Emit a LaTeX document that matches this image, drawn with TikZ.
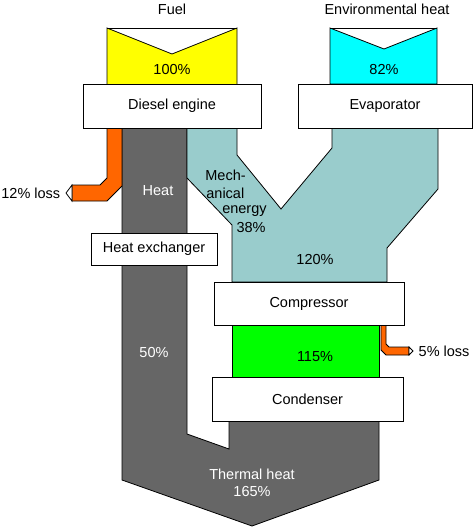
\documentclass[tikz,border=0pt]{standalone}
\usepackage{fontspec}
\setmainfont{Liberation Sans}
\definecolor{fuelyellow}{RGB}{255,255,0}
\definecolor{envcyan}{RGB}{0,255,255}
\definecolor{mechteal}{RGB}{153,204,204}
\definecolor{condgreen}{RGB}{0,255,0}
\definecolor{heatgray}{RGB}{102,102,102}
\definecolor{lossorange}{RGB}{255,102,0}
\begin{document}
\begin{tikzpicture}[x=1pt,y=-1pt,line width=0.8pt,font=\fontsize{14.5}{17}\selectfont,
  box/.style={draw,fill=white,inner sep=0pt,minimum width=#1},
  wtext/.style={text=white}]
\useasboundingbox[fill=white] (0,0) rectangle (474,527);
\filldraw [fill=heatgray] (122,128)--(122,480)--(252,526)--(379,480)--(379,421)--(229,421)--(229,449)--(187,434)--(187,128)--cycle;
\filldraw [fill=mechteal] (187,128)--(187,178)--(232,225)--(232,282)--(387,282)--(387,248)--(438,189)--(438,128)--(332,128)--(332,148)--(281,209)--(237,155)--(237,128)--cycle;
\filldraw [fill=condgreen] (232,325) rectangle (379,377);
\filldraw [fill=lossorange] (122,128)--(122,186)--(107,201)--(72,201)--(72,185)--(100,185)--(107,178)--(107,128)--cycle;
\filldraw [fill=white] (72,185)--(66,193)--(72,201)--cycle;
\filldraw [fill=lossorange] (381,325)--(381,350)--(386,355)--(409,355)--(409,347)--(389,347)--(386,344)--(386,325)--cycle;
\filldraw [fill=white] (409,347)--(413,351)--(409,355)--cycle;
\filldraw [fill=fuelyellow] (107,28)--(172,54)--(237,28)--(237,85)--(107,85)--cycle;
\draw (107,28)--(237,28);
\filldraw [fill=envcyan] (330,28)--(384,49)--(437,28)--(437,84)--(330,84)--cycle;
\draw (330,28)--(437,28);
\node (fuel) at (172,9) {Fuel};
\node (envheat) at (387,9) {Environmental heat};
\node (fuelpct) at (172,70) {100\%};
\node (envpct) at (384,70) {82\%};
\node [box=178pt,minimum height=44pt] (diesel) at (172,106) {Diesel engine};
\node [box=174pt,minimum height=44pt] (evap) at (385,106) {Evaporator};
\node [box=126pt,minimum height=32pt] (hex) at (154,249) {Heat exchanger};
\node [box=190pt,minimum height=43pt] (comp) at (309,303.5) {Compressor};
\node [box=191pt,minimum height=44pt] (cond) at (307.5,399) {Condenser};
\node [anchor=east] (lossa) at (64,193) {12\% loss};
\node [anchor=west] (lossb) at (415,351) {5\% loss};
\node [wtext] (heat) at (158,191) {Heat};
\node [wtext] (fifty) at (154,353) {50\%};
\node [wtext,align=center] (thermal) at (252,483) {Thermal heat\\165\%};
\node [anchor=west,inner sep=0pt] (mecha) at (205,175) {Mech-};
\node [anchor=west,inner sep=0pt] (mechb) at (206,193) {anical};
\node [anchor=east,inner sep=0pt] (mechc) at (267,211) {energy};
\node [anchor=east,inner sep=0pt] (mechd) at (266,228) {38\%};
\node (comppct) at (315,260) {120\%};
\node (condpct) at (315,357) {115\%};
\end{tikzpicture}
\end{document}
